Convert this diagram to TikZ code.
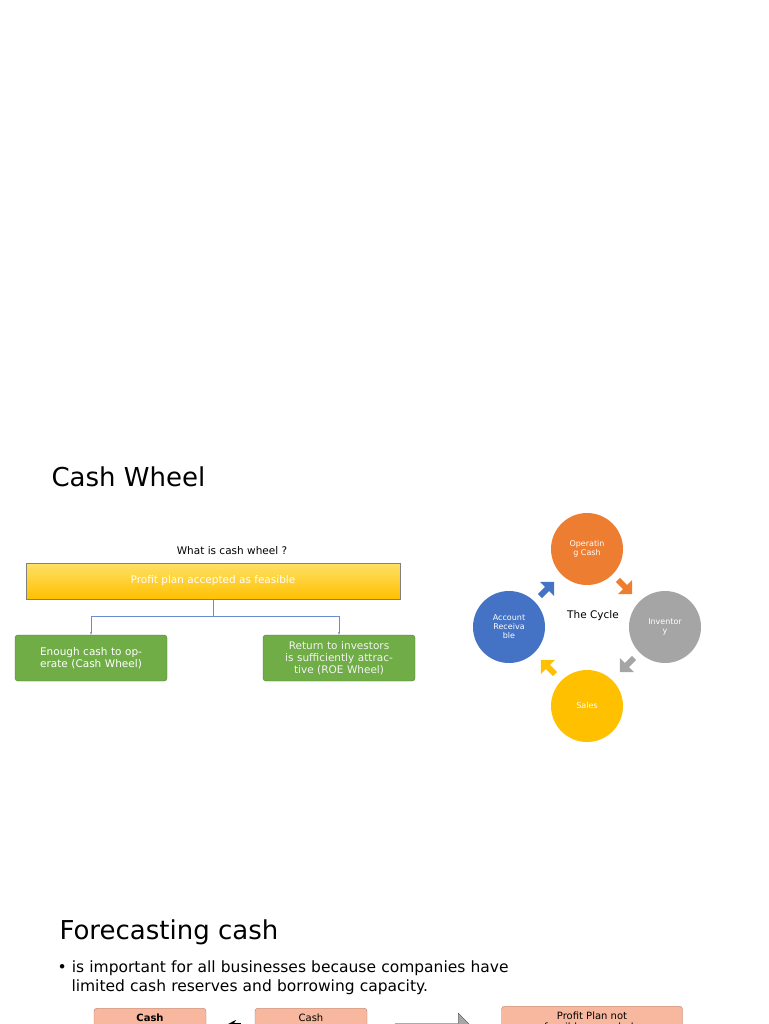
\documentclass[tikz,border=0pt]{standalone}
\usepackage{fontspec}
\setmainfont{DejaVu Sans}
\usetikzlibrary{shapes.arrows,arrows.meta}
\definecolor{gor}{HTML}{FFC000}
\definecolor{ggreen}{HTML}{70AD47}
\definecolor{corange}{HTML}{ED7D31}
\definecolor{cgray}{HTML}{A5A5A5}
\definecolor{cblue}{HTML}{4472C4}
\definecolor{salm}{HTML}{F8B89F}
\tikzset{
 gbox/.style={draw=ggreen!70!black,fill=ggreen,rounded corners=3pt,minimum width=152pt,minimum height=46pt,text=white,font=\fontsize{10.5}{12}\selectfont,align=center,text width=140pt},
 circ/.style={circle,minimum size=72pt,text=white,font=\fontsize{8}{9}\selectfont,align=center,inner sep=0pt},
 blk/.style={single arrow,minimum height=20pt,minimum width=20pt,single arrow head extend=3pt,inner sep=1pt},
 sbox/.style={draw=salm!70!black,fill=salm,rounded corners=3pt,minimum height=30pt,anchor=north,align=center,font=\fontsize{10}{11}\selectfont},
 conn/.style={draw=cblue!80,line width=0.6pt,-{Stealth[length=3pt]}}
}
\begin{document}
\begin{tikzpicture}[x=1pt,y=-1pt]
\useasboundingbox (0,0) rectangle (768,1024);
\clip (0,0) rectangle (768,1024);
\node[anchor=west,font=\fontsize{26}{30}\selectfont] (t1) at (48,477) {Cash Wheel};
\node[font=\fontsize{10.5}{12}\selectfont] (q) at (232,551) {What is cash wheel ?};
\node[draw=gray,top color=gor!80!yellow!60,bottom color=gor,minimum width=374pt,minimum height=36pt,text=white,font=\fontsize{10.5}{12}\selectfont] (pp) at (213,581) {Profit plan accepted as feasible};
\node[gbox] (g1) at (91,658) {Enough cash to operate (Cash Wheel)};
\node[gbox,text=white!90!gray] (g2) at (339,658) {Return to investors is sufficiently attractive (ROE Wheel)};
\coordinate (m) at (213,616);
\coordinate (ml) at (91,616);
\coordinate (mr) at (339,616);
\draw[draw=cblue!80,line width=0.6pt] (pp.south) -- (m) (ml) -- (mr);
\draw[conn] (ml) -- (g1.north);
\draw[conn] (mr) -- (g2.north);
% cycle
\node[circ,fill=corange] (oc) at (587,549) {Operatin\\g Cash};
\node[circ,fill=cgray] (inv) at (665,627) {Inventor\\y};
\node[circ,fill=gor] (sa) at (587,706) {Sales};
\node[circ,fill=cblue] (ar) at (509,627) {Account\\Receiva\\ble};
\node[font=\fontsize{10.5}{12}\selectfont] (cy) at (593,616) {The Cycle};
\node[blk,fill=corange,rotate=-45] (a1) at (624,586) {};
\node[blk,fill=cgray,rotate=-135] (a2) at (628,664) {};
\node[blk,fill=gor,rotate=135] (a3) at (549,668) {};
\node[blk,fill=cblue,rotate=45] (a4) at (546,590) {};
% forecasting
\node[anchor=west,font=\fontsize{26}{30}\selectfont] (t2) at (56,932) {Forecasting cash};
\node[anchor=north west,align=left,font=\fontsize{15.5}{19}\selectfont,text width=700pt] (b) at (54,957) {\textbullet\ is important for all businesses because companies have\\\hspace*{14pt}limited cash reserves and borrowing capacity.};
\node[sbox,minimum width=112pt] (s1) at (150,1008) {\textbf{Cash}\\x};
\node[sbox,minimum width=112pt] (s2) at (311,1008) {Cash\\x};
\node[sbox,minimum width=181pt] (s3) at (592,1006) {Profit Plan not\\feasible as a whole};
\node[single arrow,draw=black!70,fill=gray!70,minimum height=80pt,minimum width=34pt,single arrow head extend=6pt,anchor=west] (ga) at (395,1030) {};
\coordinate (ae) at (228,1024);
\draw[-{Stealth[length=8pt,width=8pt]},line width=1.5pt] (s2.west|-ae) ++(-14,0) coordinate (as) -- (ae);
\end{tikzpicture}
\end{document}
